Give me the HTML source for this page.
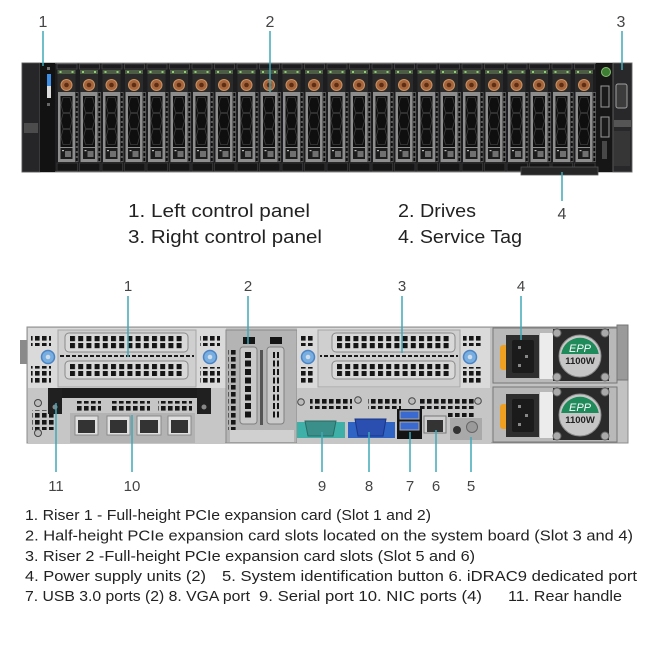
<!DOCTYPE html>
<html><head><meta charset="utf-8"><style>
html,body{margin:0;padding:0;background:#fff;}
svg{display:block;}
text{font-family:"Liberation Sans","Noto Sans CJK SC",sans-serif;}
</style></head><body>
<svg width="650" height="650" viewBox="0 0 650 650" xmlns="http://www.w3.org/2000/svg">
<defs>
<pattern id="dots" x="0" y="92" width="3.2" height="5" patternUnits="userSpaceOnUse"><rect width="3.2" height="5" fill="#5a5a5a"/><rect x="0.7" y="1" width="1.8" height="3" fill="#0a0a0a"/></pattern>
<pattern id="v" x="0" y="0" width="7" height="7" patternUnits="userSpaceOnUse"><rect width="4.6" height="4.6" fill="#161616"/></pattern>
<pattern id="cp1" x="70" y="336" width="8.2" height="7" patternUnits="userSpaceOnUse"><rect width="5" height="5.2" fill="#151515"/></pattern>
<pattern id="cp2" x="337" y="336" width="8.2" height="7" patternUnits="userSpaceOnUse"><rect width="5" height="5.2" fill="#151515"/></pattern>
<pattern id="dash" x="60" y="355" width="6" height="3" patternUnits="userSpaceOnUse"><rect width="4" height="2" fill="#1a1a1a"/></pattern>
<pattern id="sl" x="245" y="352" width="8" height="8.5" patternUnits="userSpaceOnUse"><rect width="6" height="6" fill="#151515"/></pattern>
<g id="drv">
 <rect x="1" y="64" width="20" height="5" fill="none" stroke="#4a4a4a" stroke-width="0.8"/>
 <rect x="1.5" y="70" width="18" height="4" fill="#4d5c44"/>
 <rect x="3.5" y="71" width="2" height="2" fill="#8fd070"/>
 <rect x="15.5" y="71" width="2" height="2" fill="#8fd070"/>
 <rect x="1.5" y="74" width="18" height="18" fill="#2b2b2b"/>
 <circle cx="10.5" cy="85" r="5.5" fill="#a4643c" stroke="#d0915e" stroke-width="1"/>
 <circle cx="10.5" cy="85" r="2.3" fill="#5e2e14"/>
 <rect x="2" y="92" width="17" height="70" fill="#8d8d8d"/>
 <rect x="4.5" y="96" width="12" height="51" fill="#0f0f0f"/>
 <path d="M7 97.5L14 97.5L16 105L14 112.5L7 112.5L5 105Z M7 113.5L14 113.5L16 121L14 128.5L7 128.5L5 121Z M7 129.5L14 129.5L16 137L14 144.5L7 144.5L5 137Z" fill="none" stroke="#3e3e3e" stroke-width="0.8"/>
 <rect x="4.5" y="148" width="12" height="11" fill="#1c1c1c"/>
 <rect x="6" y="150" width="2" height="1.2" fill="#bbb"/>
 <rect x="9" y="151" width="6" height="6" fill="#707070"/>
 <rect x="19.3" y="92" width="3.2" height="70" fill="url(#dots)"/>
 <rect x="1" y="163" width="20.5" height="8" fill="#151515" stroke="#3e3e3e" stroke-width="0.7"/>
</g>
<g id="psu">
 <rect x="493" y="0" width="124" height="55" fill="#b9b9b9" stroke="#767676"/>
 <rect x="500" y="17" width="11" height="25" rx="3" fill="#f0a020"/>
 <rect x="506" y="7" width="33" height="43" fill="#2e2e2e"/>
 <rect x="512" y="12" width="22" height="33" rx="2" fill="#1b1b1b"/>
 <rect x="518" y="18" width="3" height="3" fill="#888"/>
 <rect x="525" y="27" width="3" height="3" fill="#888"/>
 <rect x="518" y="36" width="3" height="3" fill="#888"/>
 <rect x="540" y="5" width="13" height="46" fill="#ececec"/>
 <rect x="553" y="1" width="56" height="52" fill="#2a2a2a"/>
 <circle cx="580" cy="28" r="21" fill="#c6c6c6" stroke="#8a8a8a"/>
 <path d="M561.2 26 A19 19 0 0 1 598.8 26 Z" fill="#1f8a5a"/>
 <text x="580" y="24" font-size="11" font-style="italic" fill="#fff" text-anchor="middle">EPP</text>
 <text x="580" y="36" font-size="9.5" font-weight="bold" fill="#222" text-anchor="middle">1100W</text>
 <circle cx="557" cy="5" r="4" fill="#aaa" stroke="#666"/>
 <circle cx="605" cy="5" r="4" fill="#aaa" stroke="#666"/>
 <circle cx="557" cy="49" r="4" fill="#aaa" stroke="#666"/>
 <circle cx="605" cy="49" r="4" fill="#aaa" stroke="#666"/>
</g>
</defs>
<rect width="650" height="650" fill="#fff"/>

<!-- FRONT -->
<rect x="22" y="63" width="610" height="109" fill="#1d1d1f" stroke="#8a8a8a" stroke-width="1"/>
<use href="#drv" x="56"/><use href="#drv" x="78.5"/><use href="#drv" x="101"/><use href="#drv" x="123.5"/>
<use href="#drv" x="146"/><use href="#drv" x="168.5"/><use href="#drv" x="191"/><use href="#drv" x="213.5"/>
<use href="#drv" x="236"/><use href="#drv" x="258.5"/><use href="#drv" x="281"/><use href="#drv" x="303.5"/>
<use href="#drv" x="326"/><use href="#drv" x="348.5"/><use href="#drv" x="371"/><use href="#drv" x="393.5"/>
<use href="#drv" x="416"/><use href="#drv" x="438.5"/><use href="#drv" x="461"/><use href="#drv" x="483.5"/>
<use href="#drv" x="506"/><use href="#drv" x="528.5"/><use href="#drv" x="551"/><use href="#drv" x="573.5"/>
<!-- left ear -->
<rect x="22" y="63" width="18" height="109" fill="#262628" stroke="#5a5a5a" stroke-width="0.8"/>
<rect x="24" y="123" width="14" height="10" fill="#4c4c4c"/>
<rect x="40" y="63" width="15" height="109" fill="#121212"/>
<rect x="47" y="67" width="3" height="3" fill="#777"/>
<rect x="47" y="74" width="4" height="12" fill="#3d8fe6"/>
<rect x="47" y="86" width="4" height="12" fill="#dcdcdc"/>
<rect x="47" y="103" width="3" height="3" fill="#666"/>
<!-- right panel -->
<rect x="596" y="63" width="17" height="109" fill="#161616"/>
<circle cx="606" cy="72" r="4.5" fill="#3e7e34" stroke="#86c070"/>
<rect x="601" y="86" width="8" height="21" fill="#1a1a1a" stroke="#9a9a9a"/>
<rect x="601" y="117" width="8" height="20" fill="#1a1a1a" stroke="#9a9a9a"/>
<rect x="602" y="141" width="5" height="18" fill="#484848"/>
<rect x="613" y="63" width="19" height="109" fill="#28282a" stroke="#6a6a6a" stroke-width="0.8"/>
<rect x="616" y="84" width="11" height="24" rx="2" fill="#3c3c3c" stroke="#a0a0a0"/>
<rect x="614" y="120" width="17" height="7" fill="#555"/>
<rect x="614" y="131" width="16" height="35" fill="#363636"/>
<rect x="521" y="167" width="77" height="8" fill="#262626" stroke="#555" stroke-width="0.8"/>

<!-- front callouts -->
<g stroke="#3fa9b8" stroke-width="1.5">
<line x1="43" y1="31" x2="43" y2="66"/>
<line x1="270" y1="31" x2="270" y2="92"/>
<line x1="622" y1="31" x2="622" y2="70"/>
<line x1="562" y1="172" x2="562" y2="201"/>
</g>
<g font-size="16" fill="#444" text-anchor="middle">
<text x="43" y="27">1</text>
<text x="270" y="27">2</text>
<text x="621" y="27">3</text>
<text x="562" y="219">4</text>
</g>
<g font-size="18.5" fill="#222">
<text x="128" y="217" textLength="182" lengthAdjust="spacingAndGlyphs">1. Left control panel</text>
<text x="128" y="243" textLength="194" lengthAdjust="spacingAndGlyphs">3. Right control panel</text>
<text x="398" y="217" textLength="78" lengthAdjust="spacingAndGlyphs">2. Drives</text>
<text x="398" y="243" textLength="124" lengthAdjust="spacingAndGlyphs">4. Service Tag</text>
</g>

<!-- REAR -->
<rect x="20" y="340" width="8" height="24" fill="#8a8a8a"/>
<rect x="27" y="327" width="601" height="116" fill="#c2c2c2" stroke="#8c8c8c"/>
<!-- riser 1 -->
<rect x="28" y="328" width="198" height="60" fill="#dadada"/>
<rect x="58" y="330" width="138" height="57" fill="#cfcfcf" stroke="#a5a5a5"/>
<rect x="65" y="333" width="123" height="19" rx="4" fill="#d8d8d8" stroke="#8a8a8a"/>
<rect x="70" y="336" width="114" height="13" fill="url(#cp1)"/>
<rect x="60" y="355" width="134" height="3" fill="url(#dash)"/>
<rect x="65" y="361" width="123" height="18" rx="4" fill="#d8d8d8" stroke="#8a8a8a"/>
<rect x="70" y="364" width="114" height="12" fill="url(#cp1)"/>
<rect x="31" y="334" width="20" height="12" fill="url(#v)"/>
<rect x="31" y="366" width="20" height="18" fill="url(#v)"/>
<circle cx="48" cy="357" r="6.5" fill="#78aee0" stroke="#4b83c4" stroke-width="1.5"/>
<circle cx="48" cy="357" r="2.3" fill="#d0dcea"/>
<rect x="200" y="334" width="20" height="12" fill="url(#v)"/>
<rect x="200" y="367" width="20" height="16" fill="url(#v)"/>
<circle cx="210" cy="357" r="6.5" fill="#78aee0" stroke="#4b83c4" stroke-width="1.5"/>
<circle cx="210" cy="357" r="2.3" fill="#d0dcea"/>
<!-- lower left -->
<rect x="28" y="388" width="197" height="55" fill="#c6c6c6"/>
<rect x="32" y="410" width="22" height="20" fill="url(#v)"/>
<circle cx="38" cy="403" r="3.5" fill="#bbb" stroke="#444"/>
<circle cx="38" cy="433" r="3.5" fill="#bbb" stroke="#444"/>
<rect x="75" y="401" width="26" height="10" fill="url(#v)"/>
<rect x="110" y="401" width="40" height="10" fill="url(#v)"/>
<rect x="158" y="401" width="34" height="10" fill="url(#v)"/>
<rect x="70" y="413" width="125" height="30" fill="#b3b3b3"/>
<g fill="#e0e0e0" stroke="#8a8a8a">
<rect x="75" y="416" width="23" height="19"/><rect x="107" y="416" width="23" height="19"/>
<rect x="137" y="416" width="24" height="19"/><rect x="168" y="416" width="23" height="19"/>
</g>
<g fill="#333">
<rect x="78" y="420" width="17" height="13"/><rect x="110" y="420" width="17" height="13"/>
<rect x="140" y="420" width="18" height="13"/><rect x="171" y="420" width="17" height="13"/>
</g>
<!-- handle -->
<rect x="52" y="388" width="157" height="10" fill="#1c1c1c"/>
<rect x="48" y="388" width="14" height="26" fill="#202020"/>
<rect x="197" y="388" width="14" height="26" fill="#202020"/>
<circle cx="55" cy="407" r="2.5" fill="#888"/>
<circle cx="204" cy="407" r="2.5" fill="#888"/>
<!-- half height slots -->
<rect x="226" y="330" width="71" height="113" fill="#b4b4b4" stroke="#8a8a8a"/>
<rect x="228" y="350" width="9" height="80" fill="url(#v)"/>
<rect x="240" y="347" width="17" height="77" rx="3" fill="#cacaca" stroke="#808080"/>
<rect x="267" y="347" width="17" height="77" rx="3" fill="#cacaca" stroke="#808080"/>
<rect x="245" y="352" width="6" height="66" fill="url(#sl)"/>
<rect x="273" y="352" width="6" height="66" fill="url(#sl)"/>
<rect x="260" y="350" width="3" height="75" fill="#555"/>
<rect x="243" y="337" width="12" height="7" fill="#151515"/>
<rect x="270" y="337" width="12" height="7" fill="#151515"/>
<rect x="230" y="430" width="64" height="12" fill="#d0d0d0"/>
<!-- riser 2 -->
<rect x="297" y="328" width="193" height="60" fill="#dadada"/>
<rect x="318" y="330" width="142" height="57" fill="#cfcfcf" stroke="#a5a5a5"/>
<rect x="332" y="333" width="123" height="19" rx="4" fill="#d8d8d8" stroke="#8a8a8a"/>
<rect x="337" y="336" width="114" height="13" fill="url(#cp2)"/>
<rect x="320" y="355" width="138" height="3" fill="url(#dash)"/>
<rect x="332" y="361" width="123" height="18" rx="4" fill="#d8d8d8" stroke="#8a8a8a"/>
<rect x="337" y="364" width="114" height="12" fill="url(#cp2)"/>
<rect x="300" y="334" width="14" height="12" fill="url(#v)"/>
<rect x="300" y="367" width="14" height="16" fill="url(#v)"/>
<circle cx="308" cy="357" r="6.5" fill="#78aee0" stroke="#4b83c4" stroke-width="1.5"/>
<circle cx="308" cy="357" r="2.3" fill="#d0dcea"/>
<rect x="463" y="334" width="20" height="12" fill="url(#v)"/>
<rect x="463" y="367" width="20" height="16" fill="url(#v)"/>
<circle cx="470" cy="357" r="6.5" fill="#78aee0" stroke="#4b83c4" stroke-width="1.5"/>
<circle cx="470" cy="357" r="2.3" fill="#d0dcea"/>
<!-- lower middle -->
<rect x="297" y="388" width="194" height="55" fill="#c6c6c6"/>
<rect x="310" y="397" width="42" height="12" fill="url(#v)"/>
<rect x="368" y="397" width="33" height="12" fill="url(#v)"/>
<rect x="420" y="397" width="54" height="12" fill="url(#v)"/>
<rect x="448" y="411" width="26" height="6" fill="url(#v)"/>
<circle cx="301" cy="402" r="3.3" fill="#bbb" stroke="#444"/>
<circle cx="358" cy="400" r="3.3" fill="#bbb" stroke="#444"/>
<circle cx="412" cy="401" r="3.3" fill="#bbb" stroke="#444"/>
<circle cx="478" cy="401" r="3.3" fill="#bbb" stroke="#444"/>
<rect x="297" y="422" width="48" height="16" fill="#3fb0a8"/>
<path d="M305 421 L336 421 L333 436 L308 436 Z" fill="#3a8f8a" stroke="#2a6a66"/>
<rect x="348" y="422" width="47" height="16" fill="#2f63c4"/>
<path d="M355 419 L386 419 L383 436 L358 436 Z" fill="#2a4fb0" stroke="#1a3585"/>
<rect x="397" y="409" width="25" height="30" fill="#141414"/>
<rect x="400" y="411" width="19" height="8" fill="#3a6ad0" stroke="#aaa"/>
<rect x="400" y="422" width="19" height="8" fill="#3a6ad0" stroke="#aaa"/>
<rect x="424" y="416" width="22" height="17" fill="#cfcfcf" stroke="#777"/>
<rect x="427" y="420" width="16" height="12" fill="#333"/>
<rect x="450" y="418" width="32" height="22" fill="#a9a9a9"/>
<circle cx="457" cy="430" r="4" fill="#333"/>
<circle cx="472" cy="427" r="5.5" fill="#9a9a9a" stroke="#666"/>
<!-- PSUs -->
<rect x="617" y="325" width="11" height="55" fill="#9a9a9a" stroke="#777"/>
<use href="#psu" y="328"/>
<use href="#psu" y="387"/>

<!-- rear callouts -->
<g stroke="#3fa9b8" stroke-width="1.5">
<line x1="128" y1="296" x2="128" y2="357"/>
<line x1="248" y1="296" x2="248" y2="344"/>
<line x1="402" y1="296" x2="402" y2="353"/>
<line x1="521" y1="296" x2="521" y2="340"/>
<line x1="56" y1="403" x2="56" y2="472"/>
<line x1="132" y1="415" x2="132" y2="472"/>
<line x1="322" y1="432" x2="322" y2="472"/>
<line x1="369" y1="432" x2="369" y2="472"/>
<line x1="410" y1="432" x2="410" y2="472"/>
<line x1="436" y1="430" x2="436" y2="472"/>
<line x1="471" y1="437" x2="471" y2="472"/>
</g>
<g font-size="15" fill="#444" text-anchor="middle">
<text x="128" y="291">1</text>
<text x="248" y="291">2</text>
<text x="402" y="291">3</text>
<text x="521" y="291">4</text>
<text x="56" y="491">11</text>
<text x="132" y="491">10</text>
<text x="322" y="491">9</text>
<text x="369" y="491">8</text>
<text x="410" y="491">7</text>
<text x="436" y="491">6</text>
<text x="471" y="491">5</text>
</g>
<g font-size="14.5" fill="#222">
<text x="25" y="520" textLength="406" lengthAdjust="spacingAndGlyphs">1. Riser 1 - Full-height PCIe expansion card (Slot 1 and 2)</text>
<text x="25" y="540.5" textLength="608" lengthAdjust="spacingAndGlyphs">2. Half-height PCIe expansion card slots located on the system board (Slot 3 and 4)</text>
<text x="25" y="561" textLength="450" lengthAdjust="spacingAndGlyphs">3. Riser 2 -Full-height PCIe expansion card slots (Slot 5 and 6)</text>
<text x="25" y="581" textLength="181" lengthAdjust="spacingAndGlyphs">4. Power supply units (2)</text>
<text x="222" y="581" textLength="415" lengthAdjust="spacingAndGlyphs">5. System identification button 6. iDRAC9 dedicated port</text>
<text x="25" y="601" textLength="225" lengthAdjust="spacingAndGlyphs">7. USB 3.0 ports (2) 8. VGA port</text>
<text x="259" y="601" textLength="223" lengthAdjust="spacingAndGlyphs">9. Serial port 10. NIC ports (4)</text>
<text x="508" y="601" textLength="114" lengthAdjust="spacingAndGlyphs">11. Rear handle</text>
</g>
</svg>
</body></html>
